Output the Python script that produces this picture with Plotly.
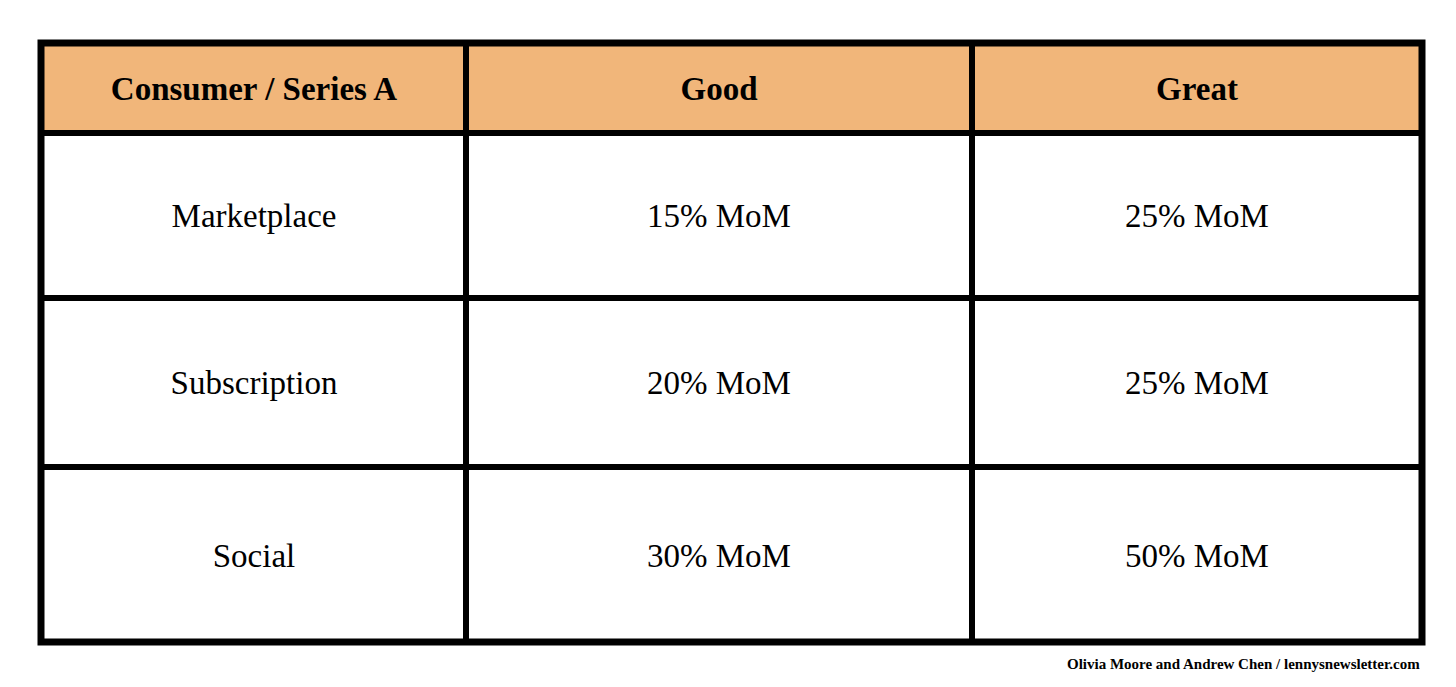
import plotly.graph_objects as go

columns = ["Consumer / Series A", "Good", "Great"]
categories = ["Marketplace", "Subscription", "Social"]
good = ["15% MoM", "20% MoM", "30% MoM"]
great = ["25% MoM", "25% MoM", "50% MoM"]

# bin edges for uneven column widths / row heights
col_edges = [0, 425, 930, 1380]
row_edges = [0, 90, 255, 425, 600]

text = [["<b>" + c + "</b>" for c in columns]]
z = [[1, 1, 1]]
for cat, g, gr in zip(categories, good, great):
    text.append([cat, g, gr])
    z.append([0, 0, 0])

fig = go.Figure(go.Heatmap(
    x=col_edges, y=row_edges, z=z, text=text,
    texttemplate="%{text}",
    textfont=dict(family="Liberation Serif", size=33, color="black"),
    colorscale=[[0, "white"], [1, "#f1b67a"]],
    showscale=False, hoverinfo="skip",
    xgap=6, ygap=6,
))

fig.update_xaxes(visible=False, range=[0, 1380], fixedrange=True)
fig.update_yaxes(visible=False, range=[600, 0], fixedrange=True)
fig.add_shape(type="rect", xref="paper", yref="paper", x0=0, x1=1, y0=0, y1=1,
              line=dict(color="black", width=7))
fig.add_annotation(text="<b>Olivia Moore and Andrew Chen / lennysnewsletter.com</b>",
                   xref="paper", yref="paper", x=1.0, y=-0.02, xanchor="right", yanchor="top",
                   showarrow=False, font=dict(family="Liberation Serif", size=15, color="black"))
fig.update_layout(width=1456, height=687, margin=dict(l=33, r=42, t=35, b=53),
                  plot_bgcolor="black", paper_bgcolor="white")
fig.write_html("out.html")
